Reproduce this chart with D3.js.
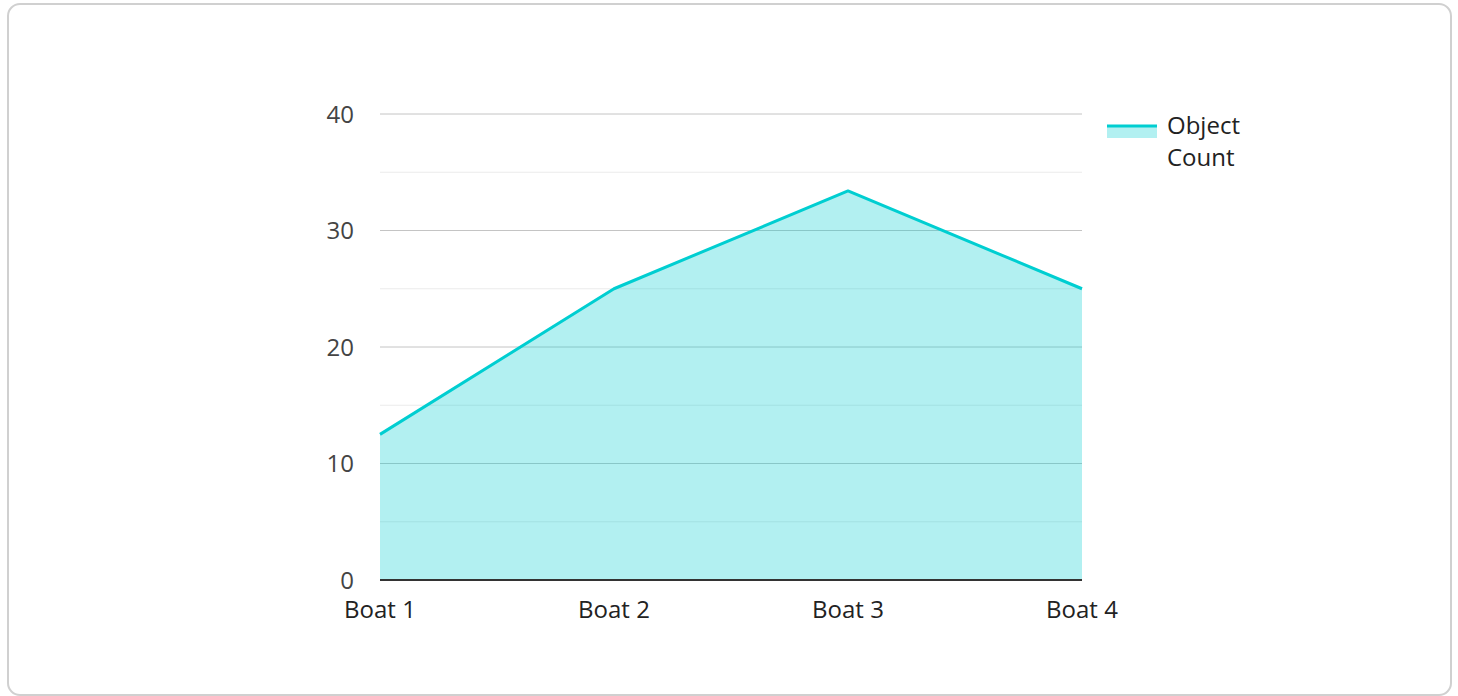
<!DOCTYPE html>
<html>
<head>
<meta charset="utf-8">
<script src="https://cdn.jsdelivr.net/npm/d3@7"></script>
<style>
  body { margin: 0; background: #fff; }
  svg { display: block; font-family: "Open Sans", sans-serif; }
</style>
</head>
<body>
<div id="chart"></div>
<script>
// data
var boats = ["Boat 1", "Boat 2", "Boat 3", "Boat 4"];
var objectCount = [12.5, 25, 33.4, 25];
var yTicks = [0, 10, 20, 30, 40];
var seriesName = ["Object", "Count"];

var W = 1458, H = 696;
var margin = {left: 380, right: 376, top: 114, bottom: 116};
var lineColor = "#00ced1";
var fontSize = 24;

var svg = d3.select("#chart").append("svg")
    .attr("width", W).attr("height", H);

// card frame
svg.append("rect")
    .attr("x", 8).attr("y", 4)
    .attr("width", 1443).attr("height", 691)
    .attr("rx", 12)
    .attr("fill", "#fff")
    .attr("stroke", "#d0d0d0")
    .attr("stroke-width", 2);

var x = d3.scalePoint().domain(boats)
    .range([margin.left, W - margin.right]);
var y = d3.scaleLinear().domain([0, 40])
    .range([H - margin.bottom, margin.top]);

// minor grid every 5, major every 10
var g = svg.append("g");
g.selectAll("line.minor")
    .data(d3.range(5, 40, 10))
    .join("line")
    .attr("class", "minor")
    .attr("x1", x.range()[0]).attr("x2", x.range()[1])
    .attr("y1", function(d){ return y(d); })
    .attr("y2", function(d){ return y(d); })
    .attr("stroke", "#ebebeb").attr("stroke-width", 1);
g.selectAll("line.major")
    .data(yTicks.slice(1))
    .join("line")
    .attr("class", "major")
    .attr("x1", x.range()[0]).attr("x2", x.range()[1])
    .attr("y1", function(d){ return y(d); })
    .attr("y2", function(d){ return y(d); })
    .attr("stroke", "#c4c4c4").attr("stroke-width", 1);

var pts = boats.map(function(b, i){ return [b, objectCount[i]]; });

var area = d3.area()
    .x(function(d){ return x(d[0]); })
    .y0(y(0))
    .y1(function(d){ return y(d[1]); });
svg.append("path")
    .attr("d", area(pts))
    .attr("fill", lineColor)
    .attr("fill-opacity", 0.3);

var line = d3.line()
    .x(function(d){ return x(d[0]); })
    .y(function(d){ return y(d[1]); });
svg.append("path")
    .attr("d", line(pts))
    .attr("fill", "none")
    .attr("stroke", lineColor)
    .attr("stroke-width", 3)
    .attr("stroke-linejoin", "round");

// baseline
svg.append("line")
    .attr("x1", x.range()[0]).attr("x2", x.range()[1])
    .attr("y1", y(0)).attr("y2", y(0))
    .attr("stroke", "#333").attr("stroke-width", 2);

// y labels
svg.selectAll("text.ylab")
    .data(yTicks)
    .join("text")
    .attr("class", "ylab")
    .attr("x", margin.left - 26)
    .attr("y", function(d){ return y(d); })
    .attr("dy", "0.36em")
    .attr("text-anchor", "end")
    .attr("font-size", fontSize)
    .attr("fill", "#444")
    .text(function(d){ return d; });

// x labels
svg.selectAll("text.xlab")
    .data(boats)
    .join("text")
    .attr("class", "xlab")
    .attr("x", function(d){ return x(d); })
    .attr("y", y(0) + 38)
    .attr("text-anchor", "middle")
    .attr("font-size", fontSize)
    .attr("fill", "#222")
    .text(function(d){ return d; });

// legend
var lg = svg.append("g").attr("transform", "translate(1107,126)");
lg.append("rect")
    .attr("x", 0).attr("y", 0)
    .attr("width", 50).attr("height", 12)
    .attr("fill", lineColor).attr("fill-opacity", 0.3);
lg.append("line")
    .attr("x1", 0).attr("x2", 50)
    .attr("y1", 0).attr("y2", 0)
    .attr("stroke", lineColor).attr("stroke-width", 3);
lg.selectAll("text")
    .data(seriesName)
    .join("text")
    .attr("x", 60)
    .attr("y", function(d, i){ return 8 + i * 32; })
    .attr("font-size", fontSize)
    .attr("fill", "#222")
    .text(function(d){ return d; });
</script>
</body>
</html>
